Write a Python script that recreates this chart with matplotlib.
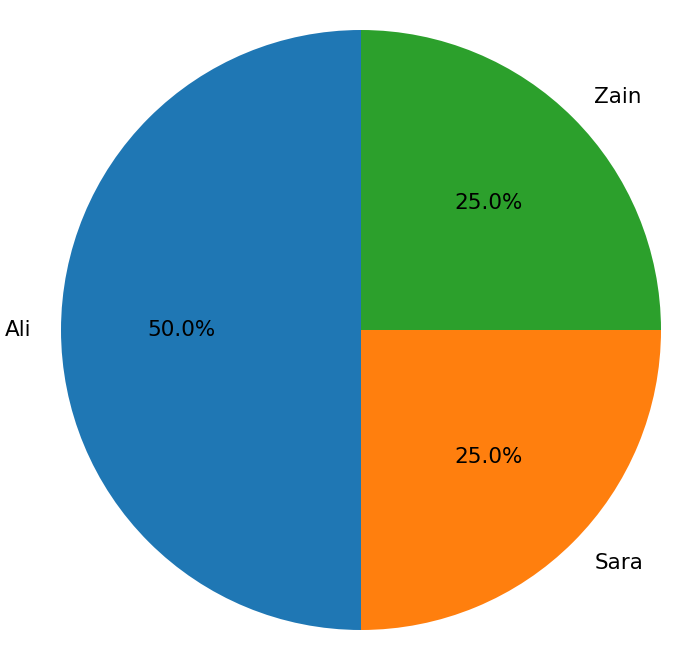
import matplotlib
matplotlib.use("Agg")
import matplotlib.pyplot as plt

labels = ["Ali", "Sara", "Zain"]
values = [50, 25, 25]

fig = plt.figure(figsize=(6.8, 6.52), dpi=100)
ax = fig.add_axes([61/680, 22/652, 600/680, 600/652])
ax.pie(values, labels=labels, autopct="%1.1f%%", startangle=90,
       textprops={"fontsize": 15.5})
ax.set_xlim(-1, 1)
ax.set_ylim(-1, 1)
ax.set_aspect("equal")
fig.savefig("out.png", dpi=100)
